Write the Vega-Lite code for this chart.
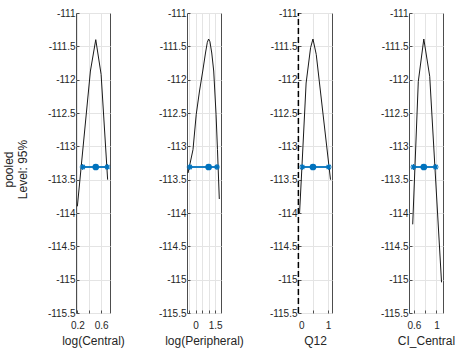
{
  "$schema": "https://vega.github.io/schema/vega-lite/v6.json",
  "background": "white",
  "padding": {"left": 1, "top": 7, "right": 5, "bottom": 5},
  "datasets": {
    "curve": [
      {"param": "log(Central)", "x": 0.2, "y": -113.9},
      {"param": "log(Central)", "x": 0.42, "y": -111.87},
      {"param": "log(Central)", "x": 0.51, "y": -111.4},
      {"param": "log(Central)", "x": 0.6, "y": -111.92},
      {"param": "log(Central)", "x": 0.71, "y": -113.5},
      {"param": "log(Peripheral)", "x": -0.58, "y": -113.4},
      {"param": "log(Peripheral)", "x": -0.2, "y": -113.05},
      {"param": "log(Peripheral)", "x": 0.05, "y": -112.52},
      {"param": "log(Peripheral)", "x": 0.3, "y": -112.17},
      {"param": "log(Peripheral)", "x": 0.55, "y": -111.87},
      {"param": "log(Peripheral)", "x": 0.76, "y": -111.6},
      {"param": "log(Peripheral)", "x": 0.9, "y": -111.44},
      {"param": "log(Peripheral)", "x": 1.0, "y": -111.39},
      {"param": "log(Peripheral)", "x": 1.1, "y": -111.43},
      {"param": "log(Peripheral)", "x": 1.24, "y": -111.6},
      {"param": "log(Peripheral)", "x": 1.39, "y": -111.87},
      {"param": "log(Peripheral)", "x": 1.57, "y": -112.52},
      {"param": "log(Peripheral)", "x": 1.68, "y": -113.05},
      {"param": "log(Peripheral)", "x": 1.82, "y": -113.79},
      {"param": "Q12", "x": 0.04, "y": -114.0},
      {"param": "Q12", "x": 0.12, "y": -113.3},
      {"param": "Q12", "x": 0.26, "y": -112.05},
      {"param": "Q12", "x": 0.41, "y": -111.52},
      {"param": "Q12", "x": 0.49, "y": -111.39},
      {"param": "Q12", "x": 0.6, "y": -111.62},
      {"param": "Q12", "x": 1.08, "y": -113.5},
      {"param": "CI_Central", "x": 0.578, "y": -114.17},
      {"param": "CI_Central", "x": 0.677, "y": -112.03},
      {"param": "CI_Central", "x": 0.775, "y": -111.39},
      {"param": "CI_Central", "x": 0.88, "y": -111.95},
      {"param": "CI_Central", "x": 1.09, "y": -115.04}
    ],
    "ci": [
      {"param": "log(Central)", "kind": "lo", "x": 0.29, "y": -113.31},
      {"param": "log(Central)", "kind": "est", "x": 0.51, "y": -113.31},
      {"param": "log(Central)", "kind": "hi", "x": 0.705, "y": -113.31},
      {"param": "log(Peripheral)", "kind": "lo", "x": -0.45, "y": -113.31},
      {"param": "log(Peripheral)", "kind": "est", "x": 1.0, "y": -113.31},
      {"param": "log(Peripheral)", "kind": "hi", "x": 1.64, "y": -113.31},
      {"param": "Q12", "kind": "lo", "x": 0.13, "y": -113.31},
      {"param": "Q12", "kind": "est", "x": 0.49, "y": -113.31},
      {"param": "Q12", "kind": "hi", "x": 1.02, "y": -113.31},
      {"param": "CI_Central", "kind": "lo", "x": 0.59, "y": -113.31},
      {"param": "CI_Central", "kind": "est", "x": 0.775, "y": -113.31},
      {"param": "CI_Central", "kind": "hi", "x": 0.985, "y": -113.31}
    ],
    "bound": [
      {"param": "Q12", "x": 0, "y": -115.5},
      {"param": "Q12", "x": 0, "y": -111}
    ]
  },
  "config": {
    "font": "Liberation Sans",
    "view": {"stroke": "#4d4d4d", "strokeWidth": 1},
    "axis": {
      "grid": true, "gridColor": "#e4e4e4", "gridWidth": 1,
      "domain": false, "tickColor": "#4d4d4d", "tickSize": -3,
      "labelFont": "Liberation Sans", "labelFontSize": 10, "labelColor": "#262626",
      "titleFont": "Liberation Sans", "titleFontSize": 12, "titleFontWeight": "normal", "titleColor": "#262626"
    },
    "axisY": {"labelPadding": 4},
    "axisX": {"labelPadding": 10, "titlePadding": 5}
  },
  "bounds": "flush",
  "spacing": 77,
  "hconcat": [
    {
      "width": 34, "height": 300,
      "encoding": {
        "x": {"field": "x", "type": "quantitative",
          "scale": {"domain": [0.177, 0.75], "nice": false, "zero": false},
          "axis": {"title": "log(Central)", "values": [0.2, 0.4, 0.6], "format": "~g", "labelExpr": "datum.value == 0.4 ? '' : datum.label"}},
        "y": {"field": "y", "type": "quantitative",
          "scale": {"domain": [-115.5, -111], "nice": false, "zero": false},
          "axis": {"title": ["pooled", "Level: 95%"], "titlePadding": 18, "titleY": 156, "values": [-111, -111.5, -112, -112.5, -113, -113.5, -114, -114.5, -115, -115.5], "format": "~g", "labelExpr": "replace(datum.label, '\u2212', '-')"}}
      },
      "layer": [
        {"data": {"name": "curve"}, "transform": [{"filter": "datum.param == 'log(Central)'"}], "mark": {"type": "line", "color": "#1a1a1a", "strokeWidth": 1}},
        {"data": {"name": "ci"}, "transform": [{"filter": "datum.param == 'log(Central)'"}], "mark": {"type": "line", "color": "#0072BD", "strokeWidth": 1.8}},
        {"data": {"name": "ci"}, "transform": [{"filter": "datum.param == 'log(Central)' && datum.kind != 'est'"}], "mark": {"type": "point", "shape": "M-1,0L1,0M0,-1L0,1M-0.71,-0.71L0.71,0.71M-0.71,0.71L0.71,-0.71", "color": "#0072BD", "size": 36, "strokeWidth": 1.2, "filled": false, "opacity": 1}},
        {"data": {"name": "ci"}, "transform": [{"filter": "datum.param == 'log(Central)' && datum.kind == 'est'"}], "mark": {"type": "circle", "color": "#0072BD", "size": 45, "opacity": 1}}
      ]
    },
    {
      "width": 34, "height": 300,
      "encoding": {
        "x": {"field": "x", "type": "quantitative",
          "scale": {"domain": [-0.66, 1.95], "nice": false, "zero": false},
          "axis": {"title": "log(Peripheral)", "values": [-0.5, 0, 0.5, 1, 1.5], "format": "~g", "labelExpr": "(datum.value == 0 || datum.value == 1.5) ? datum.label : ''"}},
        "y": {"field": "y", "type": "quantitative",
          "scale": {"domain": [-115.5, -111], "nice": false, "zero": false},
          "axis": {"title": null, "values": [-111, -111.5, -112, -112.5, -113, -113.5, -114, -114.5, -115, -115.5], "format": "~g", "labelExpr": "replace(datum.label, '\u2212', '-')"}}
      },
      "layer": [
        {"data": {"name": "curve"}, "transform": [{"filter": "datum.param == 'log(Peripheral)'"}], "mark": {"type": "line", "color": "#1a1a1a", "strokeWidth": 1}},
        {"data": {"name": "ci"}, "transform": [{"filter": "datum.param == 'log(Peripheral)'"}], "mark": {"type": "line", "color": "#0072BD", "strokeWidth": 1.8}},
        {"data": {"name": "ci"}, "transform": [{"filter": "datum.param == 'log(Peripheral)' && datum.kind != 'est'"}], "mark": {"type": "point", "shape": "M-1,0L1,0M0,-1L0,1M-0.71,-0.71L0.71,0.71M-0.71,0.71L0.71,-0.71", "color": "#0072BD", "size": 36, "strokeWidth": 1.2, "filled": false, "opacity": 1}},
        {"data": {"name": "ci"}, "transform": [{"filter": "datum.param == 'log(Peripheral)' && datum.kind == 'est'"}], "mark": {"type": "circle", "color": "#0072BD", "size": 45, "opacity": 1}}
      ]
    },
    {
      "width": 34, "height": 300,
      "encoding": {
        "x": {"field": "x", "type": "quantitative",
          "scale": {"domain": [-0.013, 1.13], "nice": false, "zero": false},
          "axis": {"title": "Q12", "values": [0, 0.5, 1], "format": "~g", "labelExpr": "datum.value == 0.5 ? '' : datum.label"}},
        "y": {"field": "y", "type": "quantitative",
          "scale": {"domain": [-115.5, -111], "nice": false, "zero": false},
          "axis": {"title": null, "values": [-111, -111.5, -112, -112.5, -113, -113.5, -114, -114.5, -115, -115.5], "format": "~g", "labelExpr": "replace(datum.label, '\u2212', '-')"}}
      },
      "layer": [
        {"data": {"name": "bound"}, "mark": {"type": "line", "color": "#000000", "strokeWidth": 1.5, "strokeDash": [6, 3]}},
        {"data": {"name": "curve"}, "transform": [{"filter": "datum.param == 'Q12'"}], "mark": {"type": "line", "color": "#1a1a1a", "strokeWidth": 1}},
        {"data": {"name": "ci"}, "transform": [{"filter": "datum.param == 'Q12'"}], "mark": {"type": "line", "color": "#0072BD", "strokeWidth": 1.8}},
        {"data": {"name": "ci"}, "transform": [{"filter": "datum.param == 'Q12' && datum.kind != 'est'"}], "mark": {"type": "point", "shape": "M-1,0L1,0M0,-1L0,1M-0.71,-0.71L0.71,0.71M-0.71,0.71L0.71,-0.71", "color": "#0072BD", "size": 36, "strokeWidth": 1.2, "filled": false, "opacity": 1}},
        {"data": {"name": "ci"}, "transform": [{"filter": "datum.param == 'Q12' && datum.kind == 'est'"}], "mark": {"type": "circle", "color": "#0072BD", "size": 45, "opacity": 1}}
      ]
    },
    {
      "width": 34, "height": 300,
      "encoding": {
        "x": {"field": "x", "type": "quantitative",
          "scale": {"domain": [0.512, 1.116], "nice": false, "zero": false},
          "axis": {"title": "CI_Central", "values": [0.6, 0.8, 1], "format": "~g", "labelExpr": "datum.value == 0.8 ? '' : datum.label"}},
        "y": {"field": "y", "type": "quantitative",
          "scale": {"domain": [-115.5, -111], "nice": false, "zero": false},
          "axis": {"title": null, "values": [-111, -111.5, -112, -112.5, -113, -113.5, -114, -114.5, -115, -115.5], "format": "~g", "labelExpr": "replace(datum.label, '\u2212', '-')"}}
      },
      "layer": [
        {"data": {"name": "curve"}, "transform": [{"filter": "datum.param == 'CI_Central'"}], "mark": {"type": "line", "color": "#1a1a1a", "strokeWidth": 1}},
        {"data": {"name": "ci"}, "transform": [{"filter": "datum.param == 'CI_Central'"}], "mark": {"type": "line", "color": "#0072BD", "strokeWidth": 1.8}},
        {"data": {"name": "ci"}, "transform": [{"filter": "datum.param == 'CI_Central' && datum.kind != 'est'"}], "mark": {"type": "point", "shape": "M-1,0L1,0M0,-1L0,1M-0.71,-0.71L0.71,0.71M-0.71,0.71L0.71,-0.71", "color": "#0072BD", "size": 36, "strokeWidth": 1.2, "filled": false, "opacity": 1}},
        {"data": {"name": "ci"}, "transform": [{"filter": "datum.param == 'CI_Central' && datum.kind == 'est'"}], "mark": {"type": "circle", "color": "#0072BD", "size": 45, "opacity": 1}}
      ]
    }
  ]
}
